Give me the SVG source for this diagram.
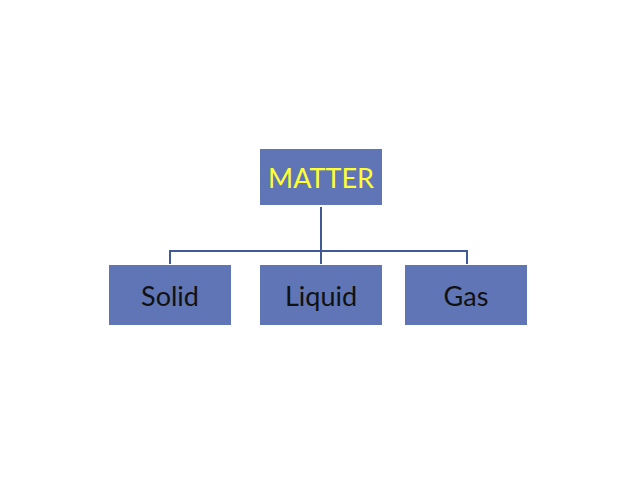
<svg xmlns="http://www.w3.org/2000/svg" width="638" height="478" viewBox="0 0 638 478">
<style>
.box{fill:#6075b5;}
.t{font-family:"Lato","Open Sans",sans-serif;font-size:27px;text-anchor:middle;dominant-baseline:central;fill:#111;}
.c{stroke:#3f5a94;stroke-width:2;fill:none;}
</style>
<rect width="638" height="478" fill="#fff"/>
<g id="connectors">
<path class="c" d="M321 207V264M170 264V251H467V264"/>
</g>
<g id="matter"><rect class="box" x="260" y="149" width="122" height="56"/><text class="t" x="321" y="177" style="fill:#ffff33">MATTER</text></g>
<g id="solid"><rect class="box" x="109" y="265" width="122" height="60"/><text class="t" x="170" y="295">Solid</text></g>
<g id="liquid"><rect class="box" x="260" y="265" width="122" height="60"/><text class="t" x="321" y="295">Liquid</text></g>
<g id="gas"><rect class="box" x="405" y="265" width="122" height="60"/><text class="t" x="466" y="295">Gas</text></g>
</svg>
